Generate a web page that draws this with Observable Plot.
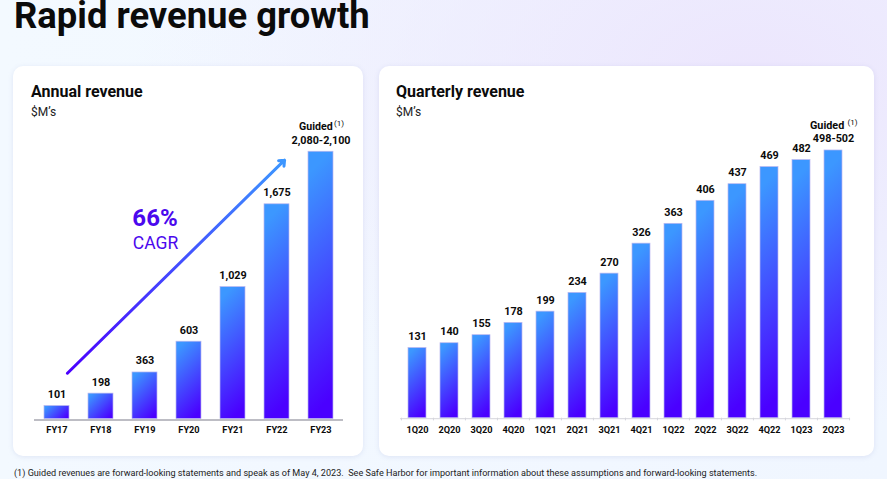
<!DOCTYPE html>
<html><head><meta charset="utf-8">
<script src="https://cdn.jsdelivr.net/npm/d3@7"></script>
<script src="https://cdn.jsdelivr.net/npm/@observablehq/plot@0.6"></script>
<style>
html,body{margin:0;padding:0;width:887px;height:479px;overflow:hidden}
body{position:relative;font-family:Roboto,sans-serif;color:#0b0b0b;
 background:radial-gradient(ellipse 620px 360px at 85% 15%,#ece6fd 0%,rgba(236,230,253,0) 100%),linear-gradient(90deg,#f3f9ff,#f0f6ff)}
#title{position:absolute;left:14px;top:0;font-size:36.4px;font-weight:700;line-height:32px;white-space:nowrap}
.card{position:absolute;top:66px;height:390px;background:#fff;border-radius:10px;box-shadow:0 1px 5px rgba(120,130,190,.16)}
.card svg{position:absolute;left:0;top:0}
.h{position:absolute;left:18px;top:16px;font-size:16px;font-weight:700;line-height:20px;white-space:nowrap}
.s{position:absolute;left:18px;top:38px;font-size:12px;line-height:16px;color:#222}
#note{position:absolute;left:14px;top:467px;font-size:9.1px;line-height:13px;color:#222;white-space:pre}
</style></head>
<body>
<div id="title">Rapid revenue growth</div>
<div class="card" id="annual" style="left:13px;width:350px"><div class="h">Annual revenue</div><div class="s">$M’s</div></div>
<div class="card" id="quarterly" style="left:379px;width:495px"><div class="h" style="left:17px">Quarterly revenue</div><div class="s" style="left:17px">$M’s</div></div>
<div id="note">(1) Guided revenues are forward-looking statements and speak as of May 4, 2023.  See Safe Harbor for important information about these assumptions and forward-looking statements.</div>
<script>
const years = ["FY17","FY18","FY19","FY20","FY21","FY22","FY23"];
const annualValues = [101,198,363,603,1029,1675,2085];
const annualLabels = ["101","198","363","603","1,029","1,675","2,080-2,100"];
const quarters = ["1Q20","2Q20","3Q20","4Q20","1Q21","2Q21","3Q21","4Q21","1Q22","2Q22","3Q22","4Q22","1Q23","2Q23"];
const quarterValues = [131,140,155,178,199,234,270,326,363,406,437,469,482,500];
const quarterLabels = ["131","140","155","178","199","234","270","326","363","406","437","469","482","498-502"];
const arrowFrom = {x:"FY17", y:346};
const arrowTo = {x:"FY22", y:2030};
const BLUE="#3c97ff", PURPLE="#4a00ff", VIOLET="#4b08ee";

// One gradient per bar, so the colour bands keep a true 45° slant whatever the bar's shape.
const defs = (id, values) => (index, scales) => {
  const d = d3.create("svg:defs");
  const bw = scales.x.bandwidth;
  const w = typeof bw === "function" ? bw() : bw;
  values.forEach((v,i) => {
    const h = scales.y(0) - scales.y(v);
    const c = (w+h)/(w*w+h*h);
    const b = d.append("linearGradient").attr("id",id+"bar"+i)
      .attr("x1",0).attr("y1",0).attr("x2",c*w).attr("y2",c*h);
    b.append("stop").attr("offset","8%").attr("stop-color",BLUE);
    b.append("stop").attr("offset","92%").attr("stop-color",PURPLE);
  });
  const a = d.append("linearGradient").attr("id",id+"arrow").attr("x1",0).attr("y1",1).attr("x2",1).attr("y2",0);
  a.append("stop").attr("offset","0%").attr("stop-color",PURPLE);
  a.append("stop").attr("offset","100%").attr("stop-color",BLUE);
  return d.node();
};
const base = {style:{background:"transparent",fontFamily:"Roboto, sans-serif",color:"#0b0b0b",overflow:"visible"}};
const idx = a => a.map((_,i)=>i);

const annual = Plot.plot({
  ...base, width:350, height:390, marginLeft:21, marginRight:20, marginTop:0, marginBottom:37.5,
  x:{domain:years, paddingInner:0.43, paddingOuter:0.215, align:0.5, label:null},
  y:{domain:[0,2200], range:[352.5,70.5], axis:null},
  marks:[
    defs("a",annualValues),
    Plot.ruleY([0],{stroke:"#bdbdc4",strokeWidth:2,dy:1}),
    Plot.barY(idx(years),{x:i=>years[i],y:i=>annualValues[i],fill:i=>`url(#abar${i})`,stroke:"#b9b6ef",strokeWidth:0.7}),
    Plot.axisX({tickSize:0,tickPadding:7,fontSize:9.2,fontWeight:700,label:null}),
    Plot.text(idx(years),{x:i=>years[i],y:i=>annualValues[i],text:i=>annualLabels[i],dy:-11.5,fontSize:10.8,fontWeight:700,fill:"#0b0b0b"}),
    Plot.text(["Guided"],{x:()=>"FY23",y:()=>annualValues[6],dy:-25.5,dx:-5.2,fontSize:10.6,fontWeight:700,fill:"#0b0b0b"}),
    Plot.text(["(1)"],{x:()=>"FY23",y:()=>annualValues[6],dy:-28.5,dx:18,fontSize:8,fill:"#0b0b0b"}),
    Plot.arrow([0],{x1:()=>arrowFrom.x,y1:()=>arrowFrom.y,x2:()=>arrowTo.x,y2:()=>arrowTo.y,dx:9,inset:2,stroke:"url(#aarrow)",strokeWidth:3,headLength:3,headAngle:80}),
    Plot.text(["66%"],{x:()=>"FY19",y:()=>1568,dx:10,fontSize:24,fontWeight:700,fill:VIOLET}),
    Plot.text(["CAGR"],{x:()=>"FY19",y:()=>1373,dx:10.5,fontSize:17.5,fill:VIOLET})
  ]
});
document.getElementById("annual").append(annual);

const quarterly = Plot.plot({
  ...base, width:495, height:390, marginLeft:21, marginRight:24.7, marginTop:0, marginBottom:38.3,
  x:{domain:quarters, paddingInner:0.44, paddingOuter:0.22, align:0.5, label:null},
  y:{domain:[0,550], range:[351.7,57.2], axis:null},
  marks:[
    defs("q",quarterValues),
    Plot.ruleY([0],{stroke:"#d5d5dc",strokeWidth:1,dy:0.5}),
    Plot.ruleX(quarters,{x:d=>d,y1:0,y2:-5,dx:-16.05,stroke:"#d5d5dc",strokeWidth:1}),
    Plot.ruleX(["2Q23"],{x:d=>d,y1:0,y2:-5,dx:16.05,stroke:"#d5d5dc",strokeWidth:1}),
    Plot.barY(idx(quarters),{x:i=>quarters[i],y:i=>quarterValues[i],fill:i=>`url(#qbar${i})`,stroke:"#b9b6ef",strokeWidth:0.7}),
    Plot.axisX({tickSize:0,tickPadding:8,fontSize:9.2,fontWeight:700,label:null}),
    Plot.text(idx(quarters),{x:i=>quarters[i],y:i=>quarterValues[i],text:i=>quarterLabels[i],dy:-11.5,fontSize:10.8,fontWeight:700,fill:"#0b0b0b"}),
    Plot.text(["Guided"],{x:()=>"2Q23",y:()=>quarterValues[13],dy:-25,dx:-6.4,fontSize:10.8,fontWeight:700,fill:"#0b0b0b"}),
    Plot.text(["(1)"],{x:()=>"2Q23",y:()=>quarterValues[13],dy:-28,dx:19,fontSize:8,fill:"#0b0b0b"})
  ]
});
document.getElementById("quarterly").append(quarterly);
</script>
</body></html>
